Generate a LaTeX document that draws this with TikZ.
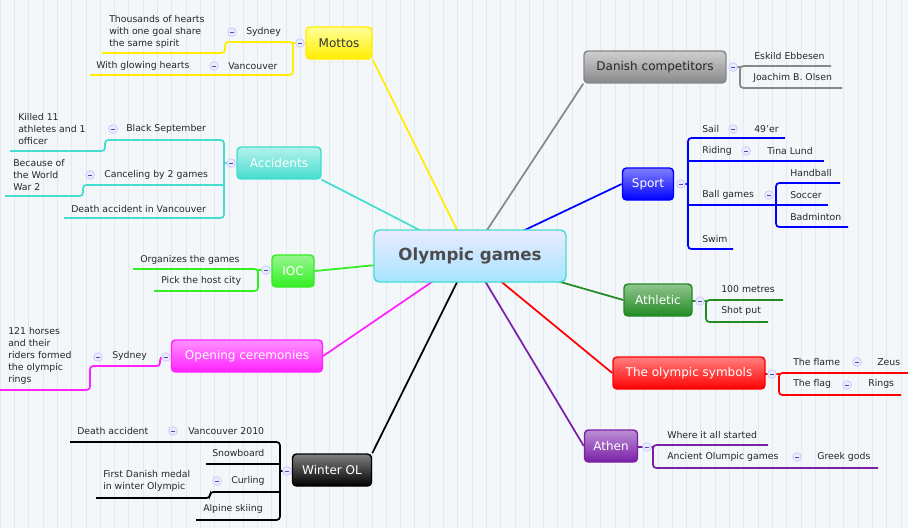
\documentclass[tikz,border=0pt]{standalone}
\usepackage{fontspec}
\setmainfont{DejaVu Sans}
\begin{document}
\begin{tikzpicture}[x=0.75pt,y=-0.75pt,
 txt/.style={inner sep=0pt,anchor=west,font=\fontsize{7}{9}\selectfont,align=left,text=black!85},
 topic/.style={rounded corners=3pt,minimum height=24pt,inner sep=2pt,font=\fontsize{9}{11}\selectfont,line width=1.1pt,text=white},
 col/.style={circle,draw=blue!25,fill=blue!8,inner sep=0pt,minimum size=6.5pt,
   path picture={\draw[blue!40!gray,line width=0.6pt] ([xshift=-1.8pt]path picture bounding box.center)--([xshift=1.8pt]path picture bounding box.center);}},
 br/.style={line width=1.3pt,rounded corners=2.5pt}]
\definecolor{bg}{HTML}{F4F7FA}\definecolor{gr}{HTML}{E2E9F0}
\definecolor{cy}{HTML}{44DDD0}\definecolor{yl}{HTML}{FFEE00}
\definecolor{ig}{HTML}{33EE22}\definecolor{mg}{HTML}{FF22FF}
\definecolor{dg}{HTML}{228B22}\definecolor{pu}{HTML}{7A1FA8}
\definecolor{gy}{HTML}{888888}
\useasboundingbox (0,0) rectangle (908,528);
\fill[bg] (0,0) rectangle (908,528);
\draw[gr,line width=0.4pt,step=14.3] (0,0) grid (908,528);
% topic nodes
\node[topic,draw=yl,top color=yellow!40,bottom color=yl,text=black!80,minimum width={66*0.75pt}] (mot) at (339,43) {Mottos};
\node[topic,draw=cy,top color=cy!40,bottom color=cy,minimum width={84*0.75pt}] (acc) at (279,163) {Accidents};
\node[topic,draw=ig,top color=ig!50,bottom color=ig,minimum width={42*0.75pt}] (ioc) at (293,271) {IOC};
\node[topic,draw=mg,top color=mg!50,bottom color=mg,minimum width={151*0.75pt}] (ope) at (247,356) {Opening ceremonies};
\node[topic,draw=black,top color=black!50,bottom color=black,minimum width={79*0.75pt}] (win) at (332,470) {Winter OL};
\node[topic,draw=gy,top color=gy!40,bottom color=gy,text=black!85,minimum width={142*0.75pt}] (dan) at (655,67) {Danish competitors};
\node[topic,draw=blue,top color=blue!50,bottom color=blue,minimum width={51*0.75pt}] (spo) at (648,184) {Sport};
\node[topic,draw=dg,top color=dg!50,bottom color=dg,minimum width={68*0.75pt}] (ath) at (658,300) {Athletic};
\node[topic,draw=red,top color=red!50,bottom color=red,minimum width={152*0.75pt}] (sym) at (689,373) {The olympic symbols};
\node[topic,draw=pu,top color=pu!50,bottom color=pu,minimum width={53*0.75pt}] (athn) at (611,446) {Athen};
% central connectors
\coordinate (cc) at (470,256);
\draw[yl,line width=1.3pt] (cc) -- (mot.south east);
\draw[cy,line width=1.3pt] (cc) -- (acc.south east);
\draw[ig,line width=1.3pt] (cc) -- (ioc.east);
\draw[mg,line width=1.3pt] (cc) -- (ope.east);
\draw[black,line width=1.3pt] (cc) -- (win.north east);
\draw[gy,line width=1.3pt] (cc) -- (dan.south west);
\draw[blue,line width=1.3pt] (cc) -- (spo.west);
\draw[dg,line width=1.3pt] (cc) -- (ath.west);
\draw[red,line width=1.3pt] (cc) -- (sym.west);
\draw[pu,line width=1.3pt] (cc) -- (athn.west);
\node[draw=cy,line width=1.1pt,rounded corners=4pt,top color=blue!8,bottom color=blue!30!cyan!35,minimum width={192*0.75pt},minimum height={52*0.75pt},font=\fontsize{12.5}{14}\selectfont\bfseries,text=black!70] (c) at (cc) {Olympic games};
% Mottos
\draw[yl,br] (102,53)--(225,53)--(225,42)--(293,42)--(293,75)--(90,75);
\draw[yl,line width=1.3pt] (293,43)--(300,43);
\node[col] (m0) at (300,43) {};
\node[txt] (m1) at (246,32) {Sydney};
\node[col] (m1c) at (232,32) {};
\node[txt] (m11) at (109,32) {Thousands of hearts\\with one goal share\\the same spirit};
\node[txt] (m2) at (228,66) {Vancouver};
\node[col] (m2c) at (214,66) {};
\node[txt] (m21) at (96,66) {With glowing hearts};
% Accidents
\draw[cy,br] (10,151)--(105,151)--(105,140)--(224,140)--(224,218)--(64,218);
\draw[cy,br] (5,196)--(83,196)--(83,185)--(224,185);
\draw[cy,line width=1.3pt] (224,163)--(231,163);
\node[col] (a0) at (231,163) {};
\node[txt] (a1) at (126,129) {Black September};
\node[col] (a1c) at (113,129) {};
\node[txt] (a11) at (18,129) {Killed 11\\athletes and 1\\officer};
\node[txt] (a2) at (104,175) {Canceling by 2 games};
\node[col] (a2c) at (90,175) {};
\node[txt] (a21) at (13,175) {Because of\\the World\\War 2};
\node[txt] (a3) at (71,209) {Death accident in Vancouver};
% IOC
\draw[ig,br] (133,269)--(258,269)--(258,291)--(154,291);
\draw[ig,line width=1.3pt] (258,270)--(266,270);
\node[col] (i0) at (266,270) {};
\node[txt] (i1) at (140,260) {Organizes the games};
\node[txt] (i2) at (161,281) {Pick the host city};
% Opening
\draw[mg,br] (166,357)--(160,357)--(160,366)--(90,366)--(90,390)--(0,390);
\node[col] (o0) at (166,357) {};
\node[txt] (o1) at (112,356) {Sydney};
\node[col] (o1c) at (98,357) {};
\node[txt] (o11) at (8,356) {121 horses\\and their\\riders formed\\the olympic\\rings};
% Winter
\draw[black,br] (70,442)--(280,442)--(280,520)--(196,520);
\draw[black,br] (206,464)--(280,464);
\draw[black,br] (96,498)--(210,498)--(210,492)--(280,492);
\draw[black,line width=1.3pt] (280,471)--(287,471);
\node[col] (w0) at (287,471) {};
\node[txt] (w1) at (188,431) {Vancouver 2010};
\node[col] (w1c) at (173,431) {};
\node[txt] (w11) at (77,431) {Death accident};
\node[txt] (w2) at (212,453) {Snowboard};
\node[txt] (w3) at (231,481) {Curling};
\node[col] (w3c) at (217,481) {};
\node[txt] (w31) at (103,481) {First Danish medal\\in winter Olympic};
\node[txt] (w4) at (203,509) {Alpine skiing};
% Danish
\draw[gy,br] (831,66)--(740,66)--(740,88)--(842,88);
\draw[gy,line width=1.3pt] (733,67)--(740,67);
\node[col] (d0) at (733,67) {};
\node[txt] (d1) at (754,56) {Eskild Ebbesen};
\node[txt] (d2) at (753,78) {Joachim B. Olsen};
% Sport
\draw[blue,br] (785,138)--(688,138)--(688,249)--(733,249);
\draw[blue,br] (688,161)--(824,161);
\draw[blue,br] (688,205)--(828,205);
\draw[blue,br] (840,183)--(776,183)--(776,227)--(848,227);
\draw[blue,line width=1.3pt] (681,184)--(688,184);
\node[col] (s0) at (681,184) {};
\node[txt] (s1) at (702,129) {Sail};
\node[col] (s1c) at (733,129) {};
\node[txt] (s11) at (754,129) {49'er};
\node[txt] (s2) at (702,151) {Riding};
\node[col] (s2c) at (746,151) {};
\node[txt] (s21) at (767,151) {Tina Lund};
\node[txt] (s3) at (702,195) {Ball games};
\node[col] (s3c) at (769,195) {};
\node[txt] (s31) at (790,173) {Handball};
\node[txt] (s32) at (790,195) {Soccer};
\node[txt] (s33) at (790,217) {Badminton};
\node[txt] (s4) at (702,239) {Swim};
% Athletic
\draw[dg,br] (783,300)--(706,300)--(706,322)--(768,322);
\draw[dg,line width=1.3pt] (692,301)--(706,301);
\node[col] (t0) at (700,301) {};
\node[txt] (t1) at (721,289) {100 metres};
\node[txt] (t2) at (721,311) {Shot put};
% Symbols
\draw[red,br] (908,373)--(779,373)--(779,395)--(901,395);
\draw[red,line width=1.3pt] (765,374)--(779,374);
\node[col] (y0) at (772,374) {};
\node[txt] (y1) at (793,362) {The flame};
\node[col] (y1c) at (857,362) {};
\node[txt] (y11) at (877,362) {Zeus};
\node[txt] (y2) at (793,384) {The flag};
\node[col] (y2c) at (847,385) {};
\node[txt] (y21) at (868,384) {Rings};
% Athen
\draw[pu,br] (768,445)--(653,445)--(653,468)--(878,468);
\draw[pu,line width=1.3pt] (637,447)--(653,447);
\node[col] (h0) at (647,447) {};
\node[txt] (h1) at (667,435) {Where it all started};
\node[txt] (h2) at (667,457) {Ancient Olumpic games};
\node[col] (h2c) at (797,457) {};
\node[txt] (h21) at (817,457) {Greek gods};
\end{tikzpicture}
\end{document}
